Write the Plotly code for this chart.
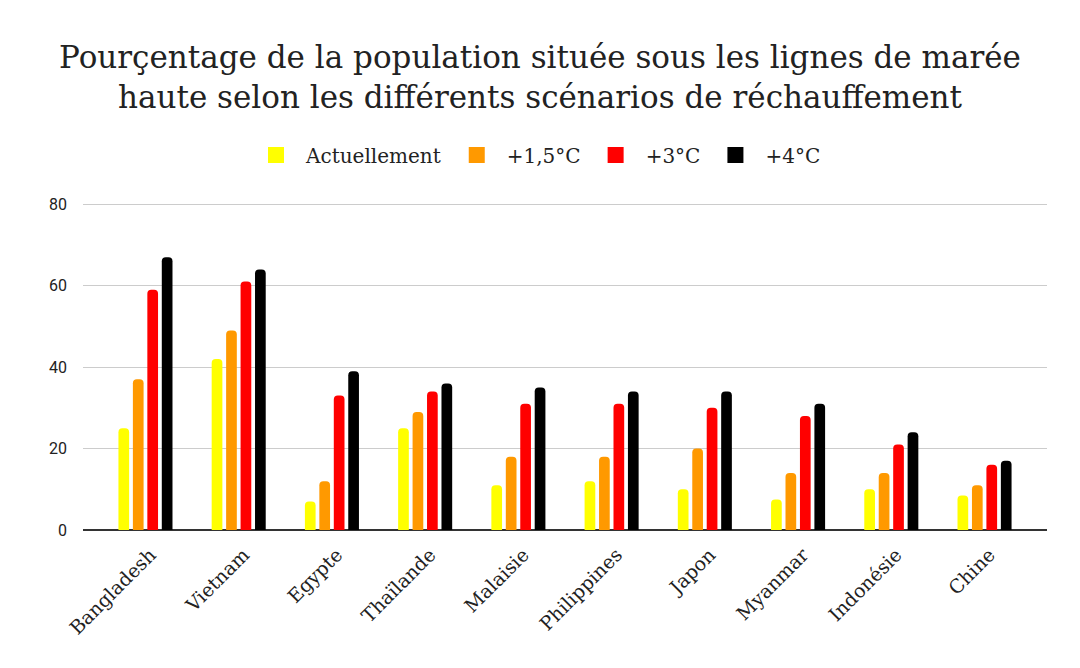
import plotly.graph_objects as go

# Données
pays = ["Bangladesh", "Vietnam", "Egypte", "Thaïlande", "Malaisie",
        "Philippines", "Japon", "Myanmar", "Indonésie", "Chine"]
actuellement = [25, 42, 7, 25, 11, 12, 10, 7.5, 10, 8.5]
plus_1_5 = [37, 49, 12, 29, 18, 18, 20, 14, 14, 11]
plus_3 = [59, 61, 33, 34, 31, 31, 30, 28, 21, 16]
plus_4 = [67, 64, 39, 36, 35, 34, 34, 31, 24, 17]
y_ticks = [0, 20, 40, 60, 80]

series = [
    ("Actuellement", actuellement, "#ffff00"),
    ("+1,5°C", plus_1_5, "#ff9900"),
    ("+3°C", plus_3, "#ff0000"),
    ("+4°C", plus_4, "#000000"),
]

serif = "DejaVu Serif"

fig = go.Figure()
for nom, valeurs, couleur in series:
    fig.add_trace(go.Bar(x=pays, y=valeurs, name=nom, marker_color=couleur,
                         marker_line_width=0, showlegend=False))
# entrées de légende avec des carrés plus grands
for nom, valeurs, couleur in series:
    fig.add_trace(go.Scatter(x=[None], y=[None], name=nom, mode="markers",
                             marker=dict(symbol="square", size=16, color=couleur)))

# la page a une marge de 8 px autour de la figure
fig.update_layout(
    width=1064, height=652,
    barmode="group",
    bargap=0.38,
    bargroupgap=0.26,
    barcornerradius=4,
    plot_bgcolor="white",
    paper_bgcolor="white",
    margin=dict(l=75, r=25, t=195, b=130, autoexpand=False),
    title=dict(
        text="Pourçentage de la population située sous les lignes de marée<br>"
             "haute selon les différents scénarios de réchauffement",
        x=0.5, xref="container", xanchor="center",
        y=0.908, yref="container", yanchor="top",
        font=dict(family=serif, size=31, color="#222222"),
    ),
    legend=dict(
        orientation="h",
        x=(528 - 75) / 964, xanchor="center",
        y=1 + (195 - 147) / 327, yanchor="middle",
        font=dict(family=serif, size=20, color="#222222"),
        itemwidth=50,
        traceorder="normal",
    ),
    xaxis=dict(
        range=[-0.67, 9.67],
        tickangle=-45,
        tickfont=dict(family=serif, size=19, color="#222222"),
        showgrid=False,
        showline=False,
        ticklabelshift=5,
        ticklabelstandoff=9,
    ),
    yaxis=dict(
        range=[0, 80.3],
        tickvals=y_ticks,
        tickfont=dict(family="Roboto", size=16, color="#222222"),
        gridcolor="#cccccc",
        gridwidth=1,
        zeroline=True,
        zerolinecolor="#333333",
        zerolinewidth=1.5,
        ticklabelstandoff=15,
    ),
)

fig.write_html("out.html")
